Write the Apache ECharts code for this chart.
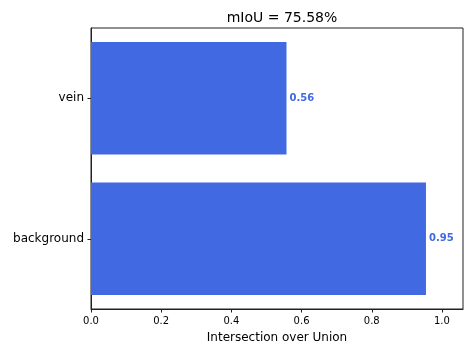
<!DOCTYPE html>
<html>
<head>
<meta charset="utf-8">
<script src="https://cdn.jsdelivr.net/npm/echarts@6/dist/echarts.min.js"></script>
<style>
html, body { margin: 0; padding: 0; background: #fff; }
#pic_chart { width: 474px; height: 355px; }
</style>
</head>
<body>
<div id="pic_chart"></div>
<script>
// data
var classNames = ['background', 'vein'];
var iouValues = [0.9545, 0.5571];
var titleText = 'mIoU = 75.58%';

var font = 'DejaVu Sans';
var myChart = echarts.init(document.getElementById('pic_chart'));
var option = {
    animation: false,
    textStyle: { fontFamily: font },
    title: {
        text: titleText,
        left: 277,
        textAlign: 'center',
        top: 6,
        textStyle: { fontFamily: font, fontSize: 14, fontWeight: 'normal', color: '#000' }
    },
    grid: {
        left: 91,
        right: 11,
        top: 28,
        bottom: 46,
        show: true,
        borderColor: '#222',
        borderWidth: 1,
        containLabel: false
    },
    xAxis: {
        type: 'value',
        min: 0,
        max: 1.06,
        interval: 0.2,
        splitLine: { show: false },
        axisLine: { show: true, lineStyle: { color: '#222' } },
        axisTick: { show: true, length: 3.5, lineStyle: { color: '#222' } },
        axisLabel: {
            fontFamily: font, fontSize: 10, color: '#000', margin: 7,
            showMaxLabel: false,
            formatter: function (v) { return v > 1.0001 ? '' : v.toFixed(1); }
        },
        name: 'Intersection over Union',
        nameLocation: 'middle',
        nameGap: 23,
        nameTextStyle: { fontFamily: font, fontSize: 12, color: '#000' }
    },
    yAxis: {
        type: 'category',
        data: classNames,
        axisLine: { show: true, lineStyle: { color: '#222' } },
        axisTick: { show: true, alignWithLabel: true, length: 3.5, lineStyle: { color: '#222' } },
        axisLabel: { fontFamily: font, fontSize: 12, color: '#000', margin: 7 }
    },
    series: [{
        type: 'bar',
        data: iouValues,
        barCategoryGap: '20%',
        itemStyle: { color: '#4169e1' },
        label: {
            show: true,
            position: 'right',
            distance: 3,
            fontFamily: font,
            fontSize: 10,
            fontWeight: 'bold',
            color: '#4169e1',
            formatter: function (p) { return p.value.toFixed(2); }
        }
    }]
};
myChart.setOption(option);
</script>
</body>
</html>
